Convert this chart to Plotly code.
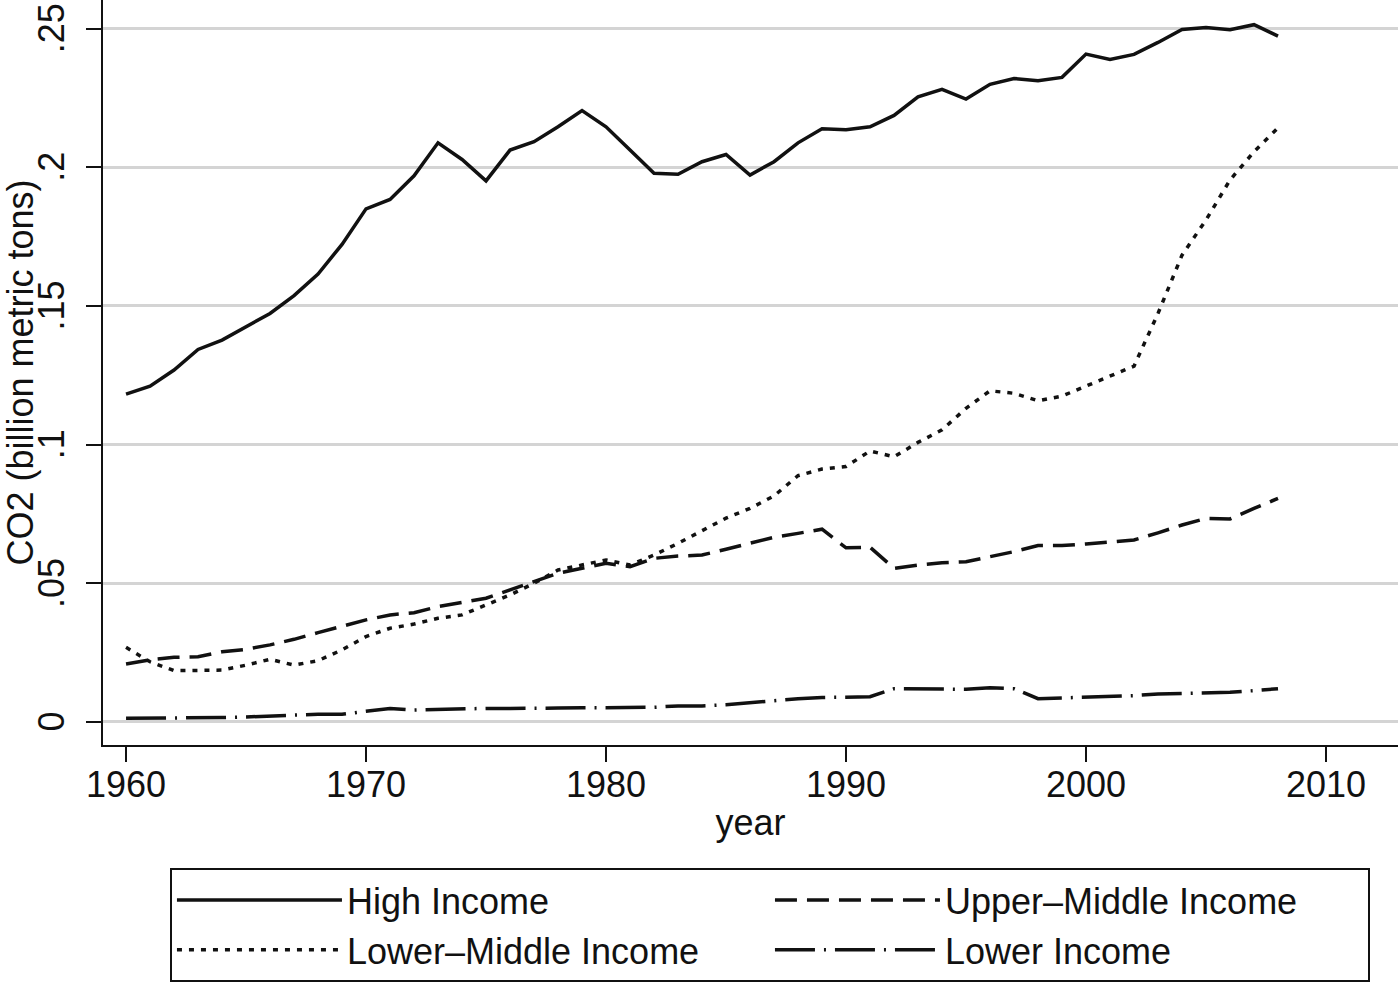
import plotly.graph_objects as go

years = list(range(1960, 2009))

high_income = [0.1182, 0.1211, 0.1269, 0.1343, 0.1377, 0.1425, 0.1473, 0.1537, 0.1615, 0.1722,
               0.1850, 0.1884, 0.1969, 0.2088, 0.2028, 0.1951, 0.2062, 0.2092, 0.2146, 0.2204,
               0.2146, 0.2062, 0.1978, 0.1975, 0.2020, 0.2046, 0.1972, 0.2020, 0.2088, 0.2139,
               0.2135, 0.2146, 0.2187, 0.2254, 0.2281, 0.2246, 0.2299, 0.2320, 0.2312, 0.2324,
               0.2408, 0.2389, 0.2407, 0.2450, 0.2497, 0.2504, 0.2496, 0.2514, 0.2473]

upper_middle = [0.0209, 0.0224, 0.0233, 0.0235, 0.0253, 0.0262, 0.0278, 0.0298, 0.0322, 0.0346,
                0.0368, 0.0386, 0.0394, 0.0416, 0.0430, 0.0446, 0.0476, 0.0506, 0.0536, 0.0554,
                0.0572, 0.0560, 0.0590, 0.0598, 0.0602, 0.0623, 0.0644, 0.0666, 0.0680, 0.0695,
                0.0628, 0.0630, 0.0554, 0.0566, 0.0574, 0.0578, 0.0596, 0.0614, 0.0636, 0.0636,
                0.0642, 0.0649, 0.0656, 0.0682, 0.0710, 0.0734, 0.0732, 0.0770, 0.0806]

lower_middle = [0.0269, 0.0217, 0.0185, 0.0185, 0.0187, 0.0205, 0.0226, 0.0205, 0.0221, 0.0260,
                0.0308, 0.0338, 0.0353, 0.0374, 0.0386, 0.0422, 0.0458, 0.0500, 0.0548, 0.0566,
                0.0584, 0.0566, 0.0602, 0.0644, 0.0690, 0.0735, 0.0770, 0.0815, 0.0888, 0.0912,
                0.0921, 0.0977, 0.0956, 0.1008, 0.1053, 0.1131, 0.1194, 0.1185, 0.1158, 0.1175,
                0.1211, 0.1247, 0.1283, 0.1473, 0.1683, 0.1810, 0.1954, 0.2056, 0.2142]

lower_income = [0.0013, 0.0013, 0.0014, 0.0015, 0.0016, 0.0018, 0.0022, 0.0023, 0.0028, 0.0028,
                0.0037, 0.0049, 0.0043, 0.0046, 0.0047, 0.0049, 0.0049, 0.0048, 0.0050, 0.0051,
                0.0052, 0.0053, 0.0053, 0.0058, 0.0058, 0.0062, 0.0070, 0.0077, 0.0084, 0.0088,
                0.0091, 0.0091, 0.0120, 0.0120, 0.0117, 0.0118, 0.0123, 0.0120, 0.0084, 0.0086,
                0.0089, 0.0091, 0.0095, 0.0101, 0.0103, 0.0106, 0.0107, 0.0113, 0.0120]

series_names = ["High Income", "Upper\u2013Middle Income", "Lower\u2013Middle Income", "Lower Income"]

x_tick_vals = [1960, 1970, 1980, 1990, 2000, 2010]
y_tick_vals = [0, 0.05, 0.1, 0.15, 0.2, 0.25]
y_tick_text = ["0", ".05", ".1", ".15", ".2", ".25"]

FONT = "Liberation Sans, Arial, Helvetica, sans-serif"
INK = "#111111"

dashes = ["solid", "22px,10px", "5px,7px", "40px,9px,2px,9px"]

fig = go.Figure()
for name, vals, dash in zip(series_names, [high_income, upper_middle, lower_middle, lower_income], dashes):
    fig.add_trace(go.Scatter(
        x=years, y=vals, mode="lines", name=name,
        line=dict(color=INK, width=3.5, dash=dash),
    ))

fig.update_layout(
    width=1400, height=991,
    paper_bgcolor="white", plot_bgcolor="white",
    margin=dict(l=103, r=2, t=0, b=246),
    font=dict(family=FONT, size=36, color=INK),
    showlegend=True,
    legend=dict(
        orientation="h",
        xref="container", yref="container",
        x=0.1214, y=0.124, xanchor="left", yanchor="top",
        entrywidth=418, entrywidthmode="pixels",
        bordercolor=INK, borderwidth=2,
        font=dict(family=FONT, size=36, color=INK),
        itemwidth=165,
    ),
    xaxis=dict(
        range=[1959.04, 2013.0],
        tickmode="array", tickvals=x_tick_vals,
        ticks="outside", ticklen=15, tickwidth=2, tickcolor=INK,
        ticklabelstandoff=-8,
        showline=True, linecolor=INK, linewidth=2,
        showgrid=False, zeroline=False, automargin=False,
        tickfont=dict(size=36),
        title=dict(text="year", font=dict(size=36), standoff=6),
    ),
    yaxis=dict(
        range=[-0.0083, 0.2603],
        tickmode="array", tickvals=y_tick_vals, ticktext=y_tick_text,
        tickangle=-90, ticklabeloverflow="allow", ticklabelstandoff=8,
        ticklabelshift=5,
        ticks="outside", ticklen=15, tickwidth=2, tickcolor=INK,
        showline=True, linecolor=INK, linewidth=2,
        showgrid=True, gridcolor="#d4d4d4", gridwidth=3,
        zeroline=False, automargin=False,
        tickfont=dict(size=36),
        title=dict(text="CO2 (billion metric tons)", font=dict(size=36), standoff=20),
    ),
)

fig.write_html("out.html", config={"displayModeBar": False},
               post_script="document.body.style.margin='0';")
